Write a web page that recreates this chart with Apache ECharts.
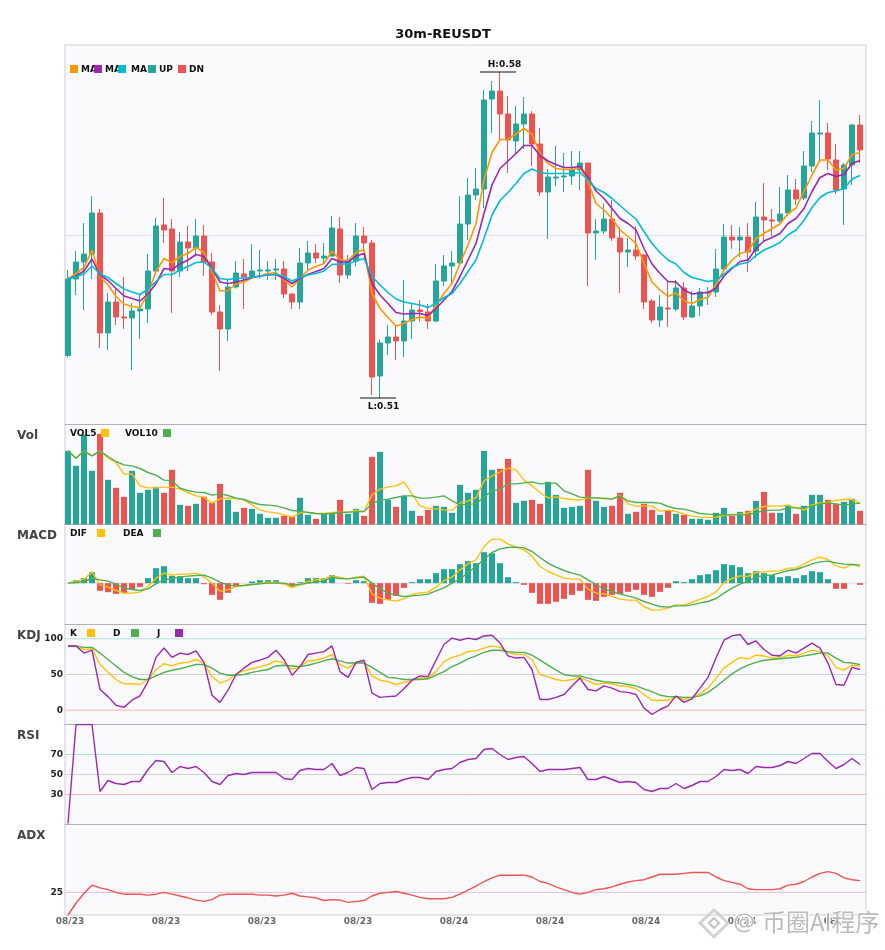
<!DOCTYPE html>
<html><head><meta charset="utf-8">
<style>html,body{margin:0;padding:0;background:#fff}#c{width:885px;height:950px}</style>
<script src="https://cdn.jsdelivr.net/npm/echarts@6/dist/echarts.min.js"></script>
</head><body><div id="c"></div>
<script>
// Prices are in units of 0.0001 USDT
const opens=[5213,5366,5400,5416,5498,5258,5320,5290,5288,5302,5306,5382,5474,5466,5382,5440,5428,5452,5400,5300,5266,5350,5376,5369,5382,5382,5384,5386,5336,5320,5398,5418,5408,5412,5466,5374,5402,5452,5438,5172,5238,5250,5242,5282,5304,5300,5282,5362,5392,5398,5476,5534,5546,5726,5742,5696,5642,5676,5696,5636,5540,5568,5570,5572,5584,5598,5458,5462,5486,5448,5420,5424,5414,5322,5284,5308,5306,5348,5290,5312,5338,5340,5386,5450,5444,5450,5422,5490,5484,5482,5498,5544,5528,5592,5656,5658,5604,5546,5594,5674];
const closes=[5366,5400,5416,5498,5258,5320,5290,5288,5302,5306,5382,5472,5464,5382,5440,5428,5452,5400,5300,5266,5350,5378,5370,5382,5384,5384,5386,5336,5320,5398,5418,5408,5412,5468,5374,5402,5452,5438,5170,5238,5250,5242,5282,5304,5301,5282,5362,5392,5398,5476,5534,5546,5724,5742,5696,5644,5676,5696,5636,5540,5570,5570,5572,5584,5598,5458,5462,5486,5448,5420,5424,5412,5320,5284,5310,5306,5348,5290,5312,5340,5340,5386,5450,5444,5450,5420,5490,5484,5482,5496,5544,5526,5592,5658,5658,5606,5544,5594,5674,5624];
const highs=[5384,5422,5478,5532,5506,5338,5349,5370,5318,5334,5416,5488,5528,5486,5460,5472,5486,5474,5418,5314,5364,5402,5406,5436,5424,5402,5406,5402,5337,5428,5442,5436,5438,5492,5490,5414,5478,5470,5444,5245,5274,5272,5364,5316,5324,5316,5396,5414,5422,5532,5568,5588,5744,5762,5780,5732,5712,5730,5702,5668,5586,5632,5618,5622,5622,5598,5486,5517,5524,5470,5448,5472,5416,5326,5334,5362,5364,5360,5342,5348,5350,5426,5476,5474,5470,5478,5520,5558,5506,5550,5574,5566,5622,5682,5724,5678,5636,5598,5676,5694];
const lows=[5209,5334,5304,5366,5228,5224,5274,5266,5184,5246,5278,5374,5438,5298,5370,5382,5411,5372,5294,5182,5242,5347,5306,5367,5367,5364,5364,5328,5306,5306,5384,5398,5397,5411,5358,5366,5391,5421,5134,5128,5214,5204,5210,5246,5281,5266,5280,5352,5357,5397,5444,5524,5508,5658,5646,5578,5616,5626,5592,5532,5446,5552,5540,5554,5544,5352,5404,5456,5442,5338,5390,5404,5306,5278,5270,5270,5302,5284,5288,5292,5314,5330,5384,5426,5410,5380,5408,5442,5452,5478,5492,5514,5524,5580,5604,5584,5536,5474,5554,5598];
const ma5=[5366,5377,5389,5424,5371,5354,5331,5316,5311,5309,5337,5381,5407,5399,5411,5417,5429,5419,5381,5342,5343,5356,5360,5368,5372,5377,5379,5365,5350,5367,5384,5391,5397,5422,5405,5403,5419,5425,5337,5307,5289,5272,5277,5285,5290,5287,5314,5337,5357,5397,5434,5477,5564,5619,5645,5645,5656,5667,5656,5617,5597,5587,5585,5585,5589,5561,5517,5504,5487,5464,5451,5437,5397,5360,5344,5331,5338,5322,5317,5325,5329,5355,5384,5404,5417,5421,5447,5457,5467,5476,5497,5508,5541,5574,5604,5604,5584,5587,5615,5619];
const ma10=[5366,5372,5382,5406,5374,5363,5347,5332,5327,5322,5336,5357,5387,5385,5396,5404,5415,5411,5387,5360,5357,5360,5364,5369,5372,5374,5375,5367,5357,5367,5375,5381,5387,5407,5400,5400,5412,5417,5357,5334,5317,5299,5296,5297,5297,5293,5307,5324,5341,5371,5404,5437,5497,5554,5587,5602,5617,5633,5633,5613,5602,5595,5589,5589,5591,5569,5542,5527,5507,5487,5477,5464,5427,5396,5377,5361,5360,5344,5336,5338,5339,5348,5372,5387,5401,5404,5427,5442,5449,5457,5477,5487,5507,5541,5569,5577,5571,5575,5597,5603];
const ma20=[5366,5371,5376,5392,5376,5369,5357,5346,5340,5335,5346,5361,5375,5375,5384,5391,5399,5400,5387,5367,5365,5367,5368,5369,5372,5374,5376,5371,5362,5369,5374,5377,5382,5395,5396,5396,5402,5407,5371,5354,5339,5326,5320,5317,5314,5309,5317,5329,5337,5357,5381,5404,5447,5494,5523,5539,5557,5577,5586,5579,5577,5577,5577,5577,5579,5564,5547,5539,5527,5513,5499,5486,5461,5437,5419,5404,5396,5379,5369,5365,5361,5364,5376,5389,5396,5399,5413,5424,5431,5439,5454,5464,5483,5509,5529,5539,5542,5547,5566,5573];
const volume=[221,176,270,161,272,134,110,83,161,95,104,113,95,164,59,56,62,83,65,122,74,38,50,47,32,20,20,26,23,80,29,17,32,35,74,32,47,26,203,218,74,53,86,41,26,44,56,53,35,119,95,104,221,164,167,197,65,71,74,62,128,89,50,53,56,164,71,53,56,95,32,38,62,44,29,41,32,29,17,17,14,35,50,26,38,41,71,98,35,35,59,32,56,89,89,74,62,68,77,41];
const vol5=[221,199,221,206,221,199,186,151,152,116,110,110,112,112,106,96,86,82,64,77,79,78,74,59,44,38,35,29,22,35,37,33,33,36,37,37,42,39,89,106,113,116,128,92,56,49,47,44,43,64,71,80,131,146,157,169,164,133,116,96,80,83,78,75,73,81,80,77,76,88,62,55,56,56,40,43,39,31,26,22,21,22,27,30,31,34,46,54,55,55,58,50,43,59,65,66,73,75,75,64];
const vol10=[221,199,221,206,221,204,189,179,176,168,156,148,133,132,109,102,97,96,88,92,87,79,75,66,60,58,56,50,42,40,36,33,32,33,36,37,38,39,62,74,76,81,86,86,79,79,82,86,71,59,61,62,83,101,106,122,122,125,128,122,124,124,101,92,82,81,80,79,76,86,71,66,66,66,64,54,48,46,40,33,31,30,29,29,29,29,36,41,43,43,50,50,49,56,61,65,62,58,61,64];
const macdHist=[0,9,15,33,-23,-27,-32,-30,-20,-11,15,45,51,22,21,15,15,-3,-35,-50,-29,-10,0,5,9,9,9,-3,-12,3,15,15,15,24,0,-2,9,6,-59,-62,-50,-38,-14,3,12,12,30,42,42,57,66,60,93,90,60,18,3,-5,-29,-62,-62,-56,-47,-35,-23,-50,-53,-41,-35,-33,-26,-20,-35,-41,-26,-14,6,3,12,24,27,39,57,54,48,30,36,30,24,18,21,15,24,36,33,12,-17,-17,0,-5];
const dif=[0,6,12,34,-5,-12,-22,-30,-30,-27,-10,15,30,24,27,27,30,20,0,-24,-20,-10,-7,-4,0,3,2,-2,-13,-4,5,10,12,22,17,13,18,21,-32,-45,-50,-54,-47,-34,-29,-27,-12,8,18,40,58,70,110,132,132,118,108,100,82,50,35,25,15,12,12,-18,-30,-32,-40,-48,-51,-51,-70,-81,-80,-75,-65,-65,-58,-48,-40,-26,2,14,22,20,32,34,36,37,45,45,57,70,78,71,52,45,57,50];
const dea=[0,2,5,14,10,6,-3,-15,-19,-22,-17,-2,11,13,19,21,23,24,15,3,-6,-8,-7,-4,-2,0,0,0,-6,-4,0,3,7,18,14,13,16,18,0,-17,-29,-36,-40,-38,-36,-33,-23,-14,0,12,32,50,72,92,103,107,108,106,95,77,60,48,38,30,24,10,-4,-17,-25,-32,-38,-45,-55,-63,-70,-72,-68,-68,-65,-59,-55,-46,-30,-15,-3,6,18,23,25,31,38,41,49,58,64,66,61,57,56,54];
const kdjK=[90,90,85,86,64,53,43,37,37,36,43,57,65,62,66,67,71,66,47,38,42,51,55,58,61,64,69,66,57,61,69,70,73,78,64,59,67,67,48,42,40,36,39,42,45,45,54,68,74,77,82,83,87,90,88,81,78,78,71,50,47,43,41,43,46,41,36,38,37,34,33,30,22,14,14,14,19,15,18,23,31,45,59,67,74,72,77,76,73,73,77,76,80,84,82,76,60,56,63,62];
const kdjD=[90,90,88,88,80,71,62,53,47,43,43,48,53,56,58,61,64,64,59,52,49,49,50,53,55,57,62,63,62,61,63,66,69,72,69,66,66,66,60,53,46,45,43,43,43,44,49,54,61,66,72,76,81,84,84,82,81,81,77,70,63,56,50,48,48,45,42,40,39,38,36,34,30,26,21,19,19,18,18,20,25,33,42,51,58,63,67,70,71,72,73,74,76,78,80,80,73,67,66,64];
const kdjJ=[90,90,80,84,29,19,7,4,14,20,40,74,87,74,80,78,83,67,21,11,28,50,59,67,70,74,84,71,49,61,78,80,82,90,54,46,67,70,24,18,19,20,30,42,48,47,70,92,101,98,101,99,104,105,94,76,73,74,57,15,15,18,22,34,45,29,27,34,31,26,25,22,3,-6,1,6,20,11,16,31,46,73,98,104,106,92,97,85,77,76,84,80,87,94,87,66,36,35,60,57];
const rsi=[1,100,100,100,33,44,41,40,43,43,55,64,63,52,58,56,58,52,43,40,49,51,50,52,52,52,52,46,45,54,56,55,55,61,49,52,57,56,35,41,42,42,45,47,47,45,53,55,56,62,65,66,75,76,70,65,67,68,61,53,55,55,55,56,57,45,45,48,45,42,43,42,35,33,36,36,41,36,39,43,43,48,55,54,55,51,58,57,57,59,63,61,66,71,71,63,56,60,66,60];
const adx=[0,13,24,33,30,28,25,23,23,23,22,23,25,23,21,19,16.5,15,17,22,23,23,23,23,22,22,21,22,24,21,20,19,16,17,16.5,14,15,16,21,24,25,26,24,22,19.5,18,18,18,19.5,23,27.5,32,37,41,44,44,44,44,42,37,35,31,28,25,23,25,28,29,31,34,36.5,38,39,42,45,45,45,46,47,47,47,42,38,36,34,29,28,28,28,29,33,34,37,42,46,48,46,41,39,38];
const tickLabels=['08/23','08/23','08/23','08/23','08/24','08/24','08/24','08/24','08/24'];
const categories=opens.map((_,i)=>tickLabels[Math.floor(i/12)]);
const hiIdx=54, loIdx=39;

const UP='#26a69a',DN='#ef5350',MA5C='#ff9800',MA10C='#9c27b0',MA20C='#00bcd4',YEL='#ffc107',GRN='#4caf50';
const FONT='"DejaVu Sans"';
const p=v=>v/10000;
const panels=[
 {top:45,h:379.5,min:.5075,max:.5834,refs:[[.5453,'#e2e0e6']],ticks:[]},
 {top:424.5,h:100,min:0,max:300,refs:[],ticks:[]},
 {top:524.5,h:100,min:-124,max:176,refs:[[0,'#dcdce0']],ticks:[]},
 {top:624.5,h:100,min:-20,max:120,refs:[[100,'#b2dfdb'],[50,'#d0d0d0'],[0,'#ffb8b8']],ticks:[0,50,100]},
 {top:724.5,h:100,min:0,max:100,refs:[[70,'#b2dfdb'],[50,'#d0d0d0'],[30,'#ffb8b8']],ticks:[30,50,70]},
 {top:824.5,h:90.5,min:0,max:100,refs:[[25,'#e1bee7']],ticks:[25]}
];
const grid=[],xAxis=[],yAxis=[],series=[];
panels.forEach((q,k)=>{
 const f=2*k,d=2*k+1;
 grid.push({left:65,width:801,top:q.top,height:q.h,show:true,backgroundColor:'#fafafc',borderColor:'#cbcbd6',borderWidth:1,z:0});
 grid.push({left:64,width:800,top:q.top,height:q.h,show:false});
 xAxis.push({type:'value',gridIndex:f,min:0,max:1,position:'bottom',silent:true,splitLine:{show:false},axisTick:{show:false},axisLabel:{show:false},
   axisLine:{show:k<5,onZero:false,lineStyle:{color:'#b0b0b6',width:1}}});
 const isLast=k===5;
 xAxis.push({type:'category',gridIndex:d,data:categories,boundaryGap:true,axisTick:{show:false},axisLine:{show:false},splitLine:{show:false},
   axisLabel:isLast?{show:true,interval:11,margin:2,fontFamily:FONT,fontWeight:'bold',fontSize:9,color:'#666',hideOverlap:false,padding:[0,0,0,4]}:{show:false}});
 yAxis.push({type:'value',gridIndex:f,min:q.min,max:q.max,splitLine:{show:false},axisLine:{show:false},
   axisTick:{show:false},
   axisLabel:{show:q.ticks.length>0,customValues:q.ticks,margin:2,padding:[2,0,0,0],fontFamily:FONT,fontWeight:'bold',fontSize:9,color:'#222'}});
 yAxis.push({type:'value',gridIndex:d,min:q.min,max:q.max,show:false,splitLine:{show:false}});
 q.refs.forEach(r=>series.push({type:'line',xAxisIndex:f,yAxisIndex:f,data:[[0,r[0]],[1,r[0]]],symbol:'none',silent:true,lineStyle:{color:r[1],width:1},z:1}));
});
const line=(name,k,data,color,w=1.4)=>({name,type:'line',xAxisIndex:2*k+1,yAxisIndex:2*k+1,data,symbol:'none',silent:true,lineStyle:{color,width:w},z:4});
const labelStyle={color:'#111',fontFamily:FONT,fontWeight:'bold',fontSize:9,position:'inside'};
series.push({name:'K',type:'candlestick',xAxisIndex:1,yAxisIndex:1,barWidth:6,z:3,
 data:opens.map((o,i)=>[p(o),p(closes[i]),p(lows[i]),p(highs[i])]),
 itemStyle:{color:UP,color0:DN,borderColor:UP,borderColor0:DN,borderWidth:1},
 markPoint:{silent:true,animation:false,symbol:'rect',symbolSize:[36,1],symbolOffset:[-2,0],itemStyle:{color:'#111'},
  data:[
   {coord:[hiIdx,p(highs[hiIdx])],label:{...labelStyle,formatter:'H:0.58',offset:[6.5,-7]}},
   {coord:[loIdx,p(lows[loIdx])],label:{...labelStyle,formatter:'L:0.51',offset:[5.5,9]}}
  ]}});
series.push(line('MA5',0,ma5.map(p),MA5C,1.6),line('MA10',0,ma10.map(p),MA10C,1.6),line('MA20',0,ma20.map(p),MA20C,1.6));
series.push({name:'Vol',type:'bar',xAxisIndex:3,yAxisIndex:3,barWidth:6,data:volume,z:3,silent:true,
 itemStyle:{color:c=>closes[c.dataIndex]>=opens[c.dataIndex]?UP:DN}});
series.push(line('VOL5',1,vol5,YEL),line('VOL10',1,vol10,GRN));
series.push({name:'MACD',type:'bar',xAxisIndex:5,yAxisIndex:5,barWidth:6,data:macdHist,z:3,silent:true,
 itemStyle:{color:c=>c.value>=0?UP:DN}});
series.push(line('DIF',2,dif,YEL),line('DEA',2,dea,GRN));
series.push(line('K',3,kdjK,YEL),line('D',3,kdjD,GRN),line('J',3,kdjJ,MA10C));
series.push(line('RSI',4,rsi,MA10C));
series.push(line('ADX',5,adx,DN));

let order=0;
const legendText=(x,y,s)=>({type:'text',left:x,top:y-4,z:10,z2:++order,style:{text:s,fill:'#111',font:'bold 9px "DejaVu Sans"'}});
const legendBox=(x,y,c)=>({type:'rect',left:x,top:y-4,z:10,z2:++order,shape:{width:8,height:8},style:{fill:c}});
const graphic=[
 legendBox(70,69,MA5C),legendText(81,69,'MA'),
 legendBox(94,69,MA10C),legendText(105,69,'MA'),
 legendBox(118,69,MA20C),legendText(131,69,'MA'),
 legendBox(148,69,UP),legendText(159,69,'UP'),
 legendBox(178,69,DN),legendText(189,69,'DN'),
 legendText(70,433.5,'VOL5'),legendBox(101,433,YEL),legendText(125,433.5,'VOL10'),legendBox(163,433,GRN),
 legendText(70,533.5,'DIF'),legendBox(97,533,YEL),legendText(123,533.5,'DEA'),legendBox(153,533,GRN),
 legendText(70,633.5,'K'),legendBox(87,633,YEL),legendText(113,633.5,'D'),legendBox(131,633,GRN),legendText(157,633.5,'J'),legendBox(175,633,MA10C),
 // watermark
 {type:'text',left:732,top:911,z:20,style:{text:'@',fill:'rgba(150,150,150,.65)',stroke:'rgba(255,255,255,.9)',lineWidth:2,font:'22px "DejaVu Sans"'}},
 {type:'text',left:761,top:909,z:20,style:{text:'币圈AI程序',fill:'rgba(150,150,150,.65)',stroke:'rgba(255,255,255,.9)',lineWidth:2,font:'24px "Noto Sans CJK SC"'}},
 {type:'polygon',z:20,shape:{points:[[714,910],[728,923],[714,937],[700,923]]},style:{fill:'none',stroke:'rgba(200,200,200,.8)',lineWidth:3}},
 {type:'polygon',z:20,shape:{points:[[714,918],[719,923],[714,928],[709,923]]},style:{fill:'none',stroke:'rgba(180,180,180,.8)',lineWidth:2}}
];
const tLabel=(s,x,y)=>({text:s,left:x,top:y,textStyle:{fontFamily:FONT,fontWeight:'bold',fontSize:12,color:'#444'},padding:0});
const chart=echarts.init(document.getElementById('c'),null,{renderer:'canvas'});
chart.setOption({animation:false,backgroundColor:'#fff',
 title:[{text:'30m-REUSDT',left:443,top:28.5,textAlign:'center',padding:0,textStyle:{fontFamily:FONT,fontWeight:'bold',fontSize:13,color:'#111'}},
  tLabel('Vol',17,430),tLabel('MACD',17,530),tLabel('KDJ',17,630),tLabel('RSI',17,730),tLabel('ADX',17,830)],
 grid,xAxis,yAxis,series,graphic});
</script></body></html>
